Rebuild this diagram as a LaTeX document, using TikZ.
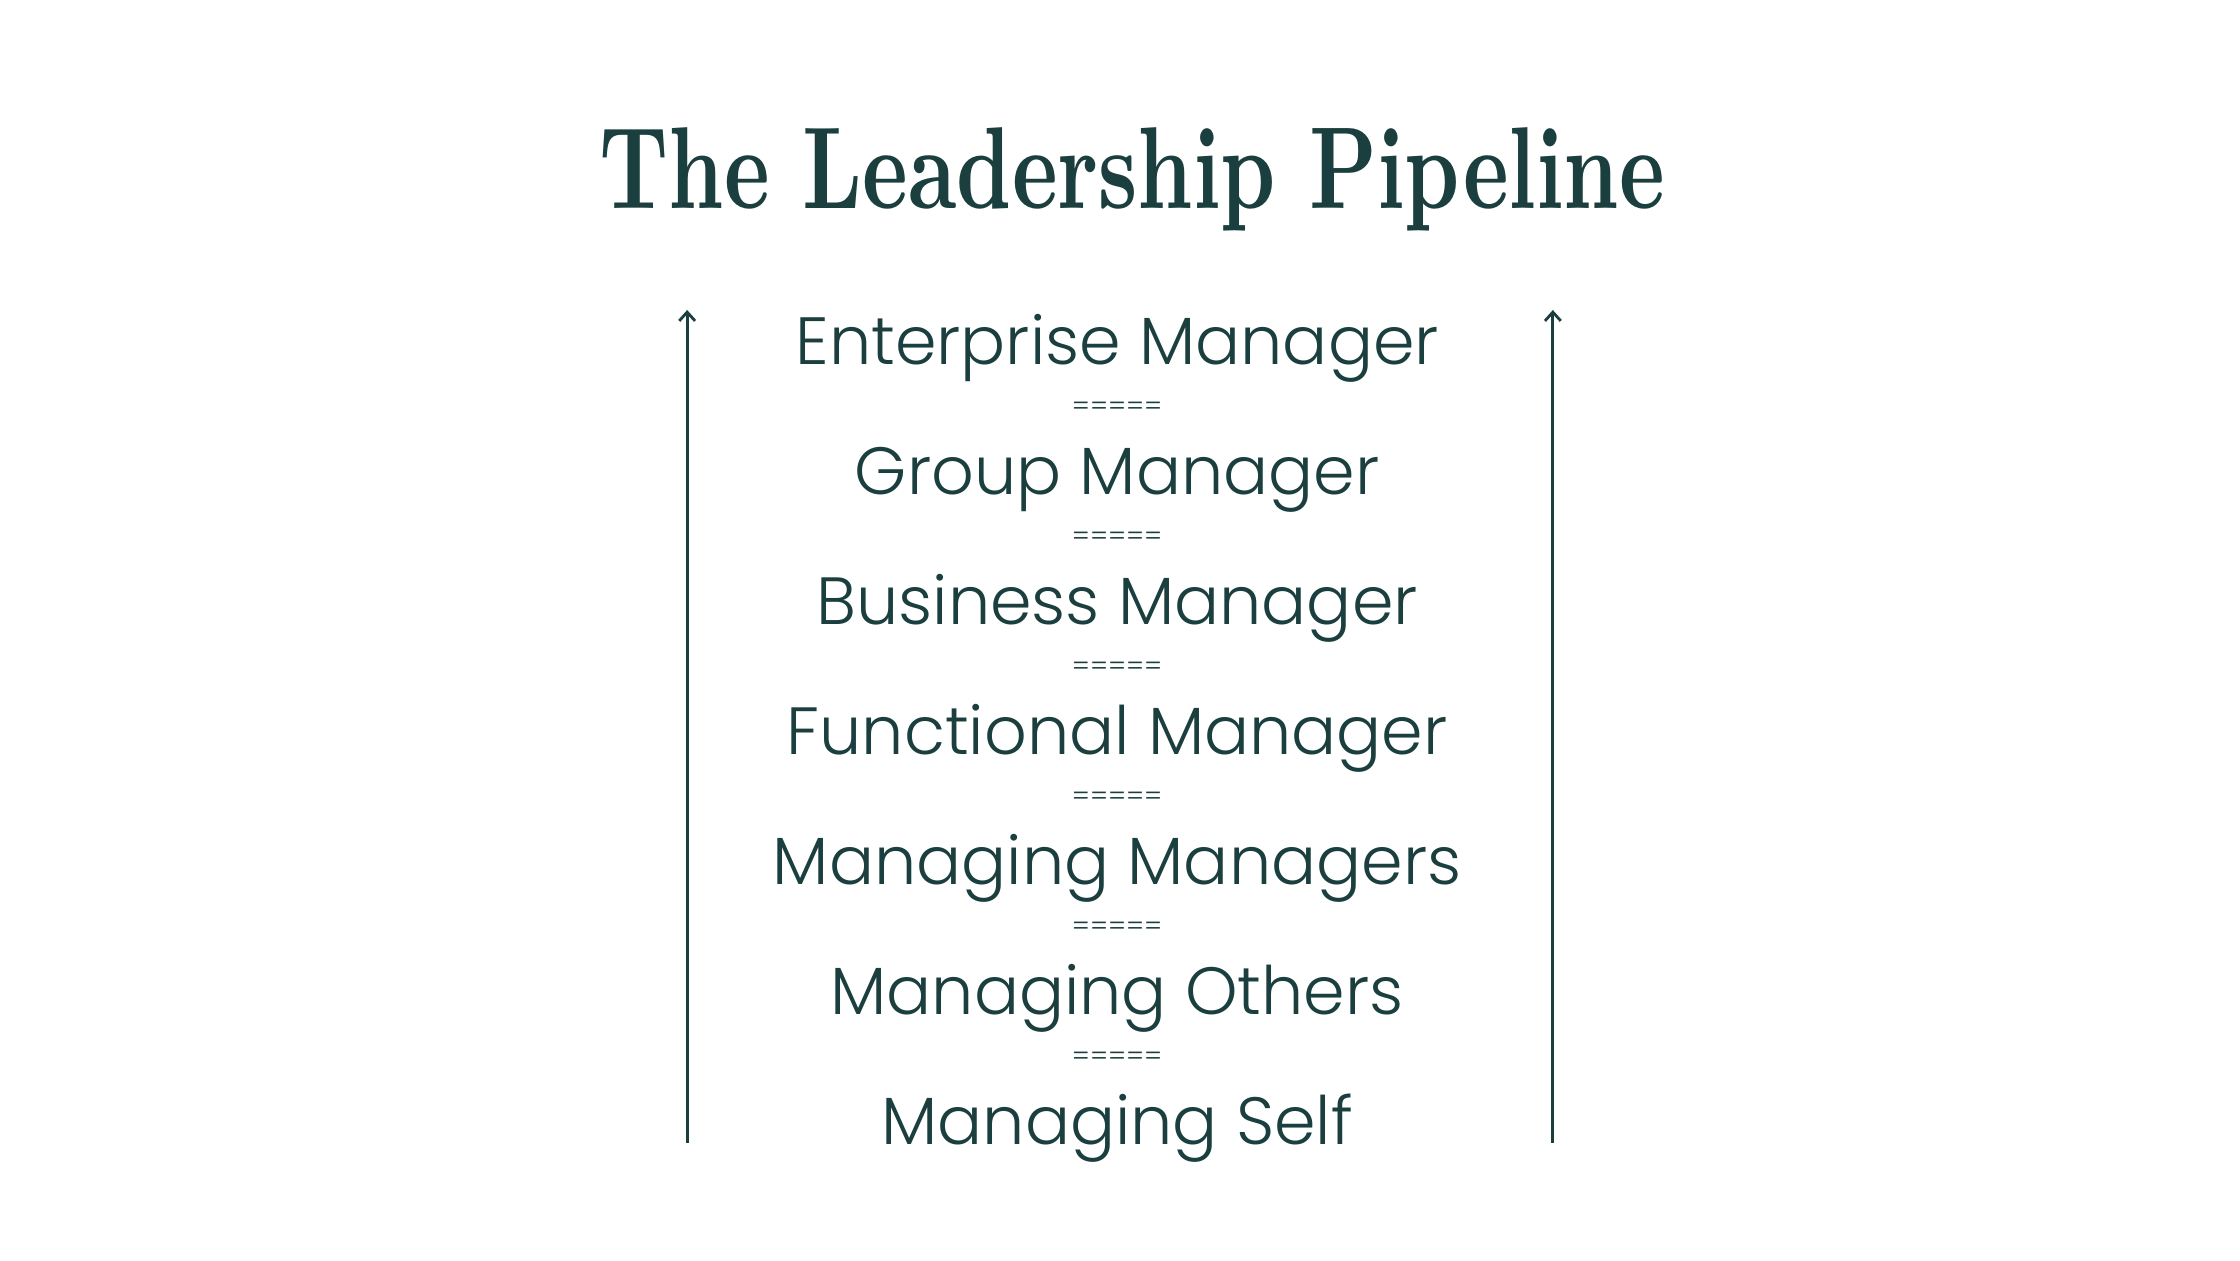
\documentclass[tikz,border=0pt]{standalone}
\usepackage{fontspec}
\IfFontExistsTF{Poppins Light}{\newfontfamily\bodyfont{Poppins Light}}{\newfontfamily\bodyfont{Poppins}}
\usetikzlibrary{arrows.meta}
\definecolor{teal}{HTML}{1B3F3E}
\begin{document}
\begin{tikzpicture}[x=0.0142857cm,y=-0.0142857cm,
  label/.style={text=teal,font=\bodyfont\fontsize{19}{22}\selectfont,anchor=base,inner sep=0pt},
  sep/.style={text=teal,font=\bodyfont\fontsize{7.6}{9}\selectfont,inner sep=0pt},
  riser/.style={draw=teal,line width=0.8pt,-{Straight Barb[length=2.5pt,width=4.5pt]}}]
\path[use as bounding box,fill=white] (0,0) rectangle (1568,882);
\node[text=teal,anchor=base,inner sep=0pt] (title) at (792.5,146)
  {\resizebox{303pt}{23pt}{\bfseries The Leadership Pipeline}};
\node[label] (l1) at (782,255) {Enterprise Manager};
\node[label] (l2) at (782,346) {Group Manager};
\node[label] (l3) at (782,437) {Business Manager};
\node[label] (l4) at (782,528) {Functional Manager};
\node[label] (l5) at (782,619) {Managing Managers};
\node[label] (l6) at (782,710) {Managing Others};
\node[label] (l7) at (782,801) {Managing Self};
\node[sep] (s1) at (782,286) {=====};
\node[sep] (s2) at (782,377) {=====};
\node[sep] (s3) at (782,468) {=====};
\node[sep] (s4) at (782,559) {=====};
\node[sep] (s5) at (782,650) {=====};
\node[sep] (s6) at (782,741) {=====};
\coordinate (lb) at (481,800);
\coordinate (lt) at (481,217);
\coordinate (rb) at (1087,800);
\coordinate (rt) at (1087,217);
\draw[riser] (lb) -- (lt);
\draw[riser] (rb) -- (rt);
\end{tikzpicture}
\end{document}
